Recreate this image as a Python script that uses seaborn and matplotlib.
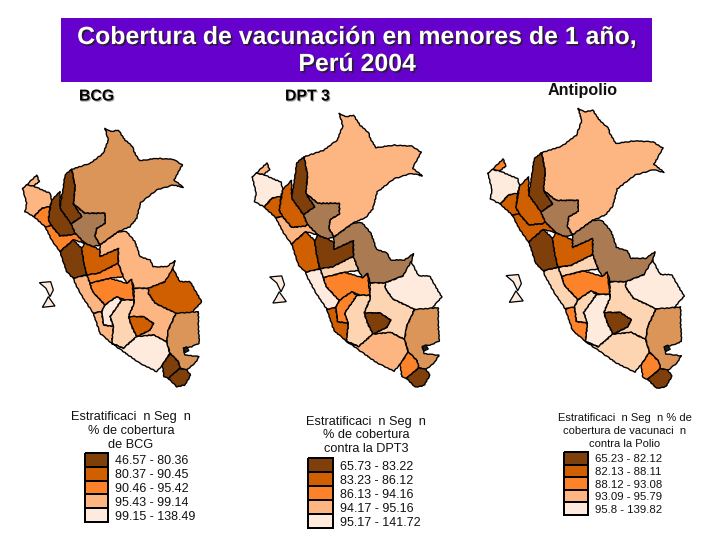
import matplotlib
matplotlib.use("Agg")
import numpy as np
import matplotlib.pyplot as plt
import matplotlib.patheffects as pe
from matplotlib.colors import ListedColormap
import seaborn as sns

sns.set_theme(style="white")
plt.rcParams["font.family"] = ["Liberation Sans", "DejaVu Sans"]

# outlines of the departments
loreto = [(285,85),(302,95),(325,90),(345,120),(368,140),(372,155),(388,182),(440,175),(490,178),(517,195),(492,240),(520,262),(490,255),(440,270),(392,308),(380,355),(360,380),(325,395),(270,435),(255,410),(260,385),(285,370),(285,340),(225,340),(190,312),(195,260),(185,208),(240,190),(280,160),(295,120)]
san_martin = [(190,312),(225,340),(285,340),(285,370),(260,385),(255,410),(270,435),(250,440),(225,430),(195,400),(183,372),(215,350)]
amazonas = [(185,208),(195,260),(190,312),(215,350),(183,372),(150,325),(160,260),(165,225)]
cajamarca = [(150,275),(150,325),(183,372),(195,400),(187,405),(150,408),(125,378),(115,360),(125,300)]
tumbes = [(50,255),(80,225),(88,245),(70,258)]
piura = [(38,265),(50,255),(70,258),(120,280),(125,300),(120,320),(95,325),(72,350),(45,335),(50,310)]
lambayeque = [(95,325),(120,320),(115,360),(125,378),(105,380),(72,350)]
la_libertad = [(105,380),(125,378),(150,408),(187,405),(195,400),(225,430),(190,420),(150,455),(125,420)]
ancash = [(150,455),(190,420),(215,445),(222,490),(230,525),(190,535),(170,515)]
huanuco = [(215,445),(225,430),(250,440),(270,450),(270,470),(325,445),(325,475),(325,490),(265,520),(230,525),(222,490)]
pasco = [(230,525),(265,520),(325,490),(340,530),(300,535),(240,550)]
lima = [(190,535),(230,525),(240,550),(248,575),(285,615),(275,635),(250,640),(220,595),(195,550)]
junin = [(240,550),(300,535),(350,550),(365,538),(372,600),(345,600),(320,590),(285,615),(248,575)]
ucayali = [(325,395),(350,395),(375,425),(390,470),(420,480),(430,500),(470,500),(495,482),(485,520),(465,545),(415,565),(372,565),(365,538),(350,550),(340,530),(325,490),(325,445),(270,470),(270,450),(270,435)]
madre_dios = [(488,505),(510,545),(540,545),(575,605),(540,645),(498,640),(435,610),(415,580),(415,565),(465,545)]
cusco = [(372,565),(415,565),(415,580),(435,610),(498,640),(475,690),(470,725),(430,705),(390,710),(380,710),(420,690),(430,670),(400,650),(355,650),(372,610),(372,600)]
apurimac = [(355,650),(400,650),(430,670),(420,690),(380,710),(365,680)]
ayacucho = [(335,600),(345,600),(372,600),(372,610),(355,650),(365,680),(380,710),(340,745),(305,730),(310,680),(300,650)]
huancavelica = [(285,615),(320,590),(335,600),(300,650),(310,680),(280,675),(275,635)]
ica = [(250,640),(275,635),(280,675),(310,680),(305,730),(270,700)]
arequipa = [(305,730),(340,745),(380,710),(430,705),(470,725),(480,760),(457,795),(440,815),(390,790)]
puno = [(498,640),(565,635),(565,680),(568,730),(545,740),(520,745),(525,765),(567,770),(555,790),(530,810),(510,805),(505,785),(480,760),(470,725),(475,690)]
moquegua = [(480,760),(505,785),(510,805),(475,835),(462,830),(457,795)]
tacna = [(510,805),(530,810),(542,825),(525,855),(500,860),(475,835)]
titicaca = [(520,745),(530,740),(537,752),(525,758)]
callao_a = [(88,548),(122,545),(130,570),(120,590),(108,565)]
callao_b = [(115,590),(135,618),(97,622),(107,605)]

departments = [loreto, san_martin, amazonas, cajamarca, tumbes, piura, lambayeque, la_libertad,
               ancash, huanuco, pasco, lima, junin, ucayali, madre_dios, cusco, apurimac,
               ayacucho, huancavelica, ica, arequipa, puno, moquegua, tacna]

# class of every department, same order as the list above
# 0-4 are the legend steps, 5 and 6 the tan and brown tones, 7 a lighter step
bcg_class = [5, 6, 0, 0, 3, 3, 2, 2, 0, 1, 2, 3, 2, 3, 1, 3, 1, 7, 4, 3, 4, 5, 0, 0]
dpt_class = [3, 6, 0, 1, 3, 4, 1, 3, 1, 0, 7, 4, 2, 6, 4, 7, 0, 7, 2, 1, 3, 5, 2, 0]
polio_class = [3, 6, 0, 1, 2, 4, 1, 1, 0, 1, 7, 7, 2, 6, 4, 7, 0, 4, 7, 2, 7, 5, 2, 0]

colors = ["#7F3F0B", "#D05F02", "#FD832A", "#FDB682", "#FEEBDD", "#DB9559", "#AA7B52", "#FDD5B2"]
palette = sns.color_palette(colors)

bcg_labels = ["46.57 - 80.36", "80.37 - 90.45", "90.46 - 95.42", "95.43 - 99.14", "99.15 - 138.49"]
dpt_labels = ["65.73 - 83.22", "83.23 - 86.12", "86.13 - 94.16", "94.17 - 95.16", "95.17 - 141.72"]
polio_labels = ["65.23 - 82.12", "82.13 - 88.11", "88.12 - 93.08", "93.09 - 95.79", "95.8 - 139.82"]

bcg_title = ["Estratificaci  n Seg  n", "% de cobertura", "de BCG"]
dpt_title = ["Estratificaci  n Seg  n", "% de cobertura", "contra la DPT3"]
polio_title = ["Estratificaci  n Seg  n % de", "cobertura de vacunaci  n", "contra la Polio"]

W, H = 728, 546
fig = plt.figure(figsize=(7.28, 5.46), dpi=100, facecolor="white")
ax = fig.add_axes([0, 0, 1, 1])
ax.set_xlim(0, W)
ax.set_ylim(H, 0)
ax.axis("off")

# title band
ax.fill([61, 652, 652, 61], [18, 18, 82, 82], color="#6600CC", lw=0)
shadow = [pe.withSimplePatchShadow(offset=(1.2, -1.2), shadow_rgbFace="#222222", alpha=0.9)]
ax.text(357, 37, "Cobertura de vacunación en menores de 1 año,", color="white", fontsize=17.9,
        fontweight="bold", ha="center", va="center", path_effects=shadow)
ax.text(357, 64, "Perú 2004", color="white", fontsize=17.9, fontweight="bold",
        ha="center", va="center", path_effects=shadow)

head_shadow = [pe.withSimplePatchShadow(offset=(0.8, -0.8), shadow_rgbFace="#888888", alpha=0.8)]
ax.text(79, 96, "BCG", fontsize=11.4, fontweight="bold", color="black", va="center", path_effects=head_shadow)
ax.text(285, 96, "DPT 3", fontsize=11.4, fontweight="bold", color="black", va="center", path_effects=head_shadow)
ax.text(548, 91, "Antipolio", fontsize=11.6, fontweight="bold", color="#111111", va="center")


def draw_map(classes, px, py):
    for outline, c in zip(departments, classes):
        xs, ys = zip(*outline)
        patch = ax.fill(px(np.array(xs)), py(np.array(ys)), facecolor=palette[c], edgecolor="black",
                        lw=1.0, joinstyle="round")[0]
        patch.set_sketch_params(0.35, 6, 3)
    for outline in [callao_a, callao_b]:
        xs, ys = zip(*outline)
        ax.fill(px(np.array(xs)), py(np.array(ys)), facecolor=palette[4], edgecolor="black", lw=0.9)
    xs, ys = zip(*titicaca)
    ax.fill(px(np.array(xs)), py(np.array(ys)), facecolor="#222222", edgecolor="black", lw=0.8)


draw_map(bcg_class, lambda x: 10 + x / 3, lambda y: 100 + y / 3)
draw_map(dpt_class, lambda x: 250 + (5 + 1.06 * (x - 37)) / 3, lambda y: 100 + (40 + 1.06 * (y - 85)) / 3)
draw_map(polio_class, lambda x: 470 + (52 + 1.098 * (x - 37)) / 3, lambda y: 80 + (85 + 1.084 * (y - 85)) / 3)


def draw_legend(labels, title_lines, box, label_size, title_x, title_ys, title_size):
    x0, y0, x1, y1 = box
    lax = fig.add_axes([x0 / W, 1 - y1 / H, (x1 - x0) / W, (y1 - y0) / H])
    steps = np.arange(5).reshape(5, 1)
    sns.heatmap(steps, ax=lax, cmap=ListedColormap(colors[:5]), vmin=0, vmax=4, cbar=False,
                linewidths=1.1, linecolor="black", xticklabels=False, yticklabels=labels, clip_on=False)
    lax.yaxis.tick_right()
    lax.tick_params(axis="y", length=0, pad=5, labelsize=label_size, labelcolor="#111111", labelrotation=0)
    for line, y in zip(title_lines, title_ys):
        ax.text(title_x, y, line, fontsize=title_size, color="#111111", ha="center", va="center")


draw_legend(bcg_labels, bcg_title, (85, 453, 108, 522), 9, 131, [417, 431, 445], 9.2)
draw_legend(dpt_labels, dpt_title, (308, 458, 333, 528), 9, 366, [422, 435, 449], 9.2)
draw_legend(polio_labels, polio_title, (564, 452, 588, 515), 8.2, 625, [418, 431, 444], 8)

fig.savefig("out.png", dpi=100)
